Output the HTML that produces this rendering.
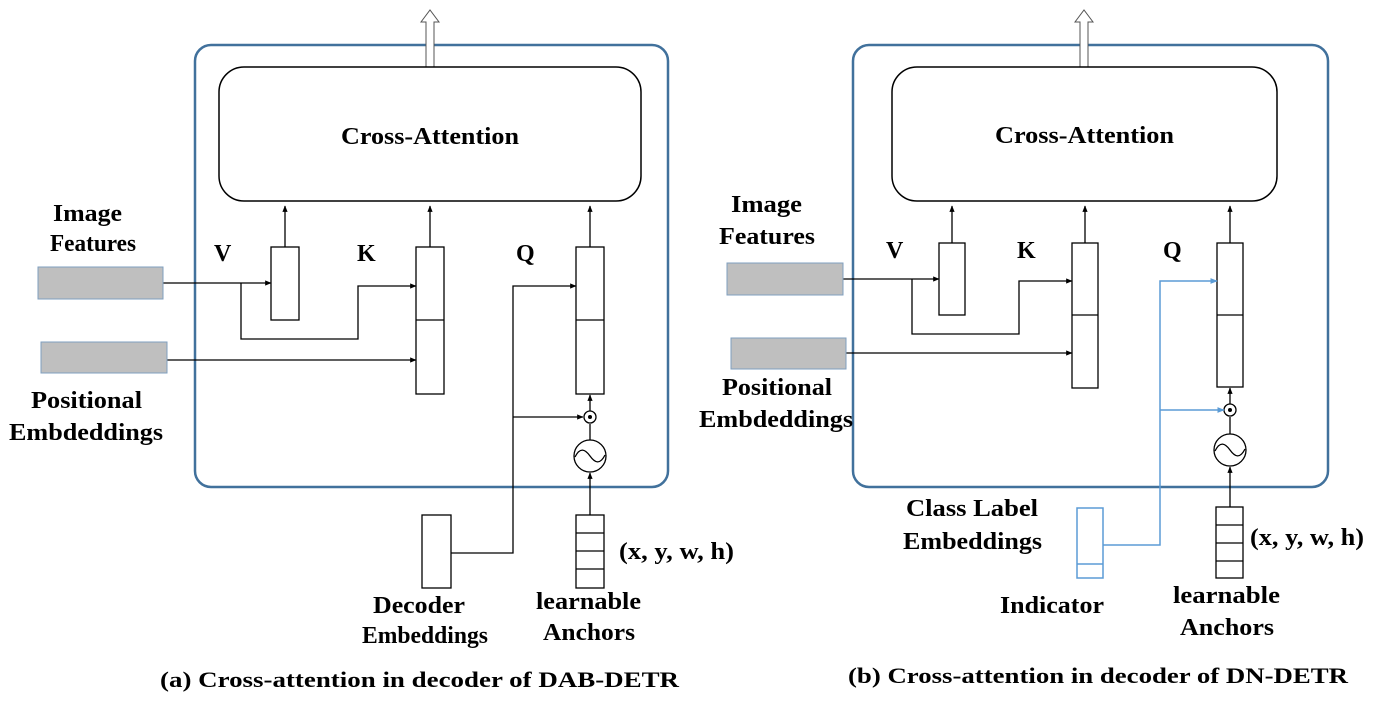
<!DOCTYPE html>
<html><head><meta charset="utf-8"><style>
html,body{margin:0;padding:0;background:#fff;}
svg{display:block;}
text{font-family:"Liberation Serif",serif;font-weight:bold;fill:#000;}
</style></head><body>
<svg width="1391" height="705" viewBox="0 0 1391 705" xmlns="http://www.w3.org/2000/svg">
<defs>
<marker id="a" viewBox="0 0 10 10" refX="9" refY="5" markerWidth="5" markerHeight="5" orient="auto"><path d="M0,1L10,5L0,9z" fill="#000"/></marker>
<marker id="b" viewBox="0 0 10 10" refX="9" refY="5" markerWidth="5" markerHeight="5" orient="auto"><path d="M0,1L10,5L0,9z" fill="#5b9bd5"/></marker>
</defs>
<!-- LEFT PANEL -->
<rect x="195" y="45" width="473" height="442" rx="16" fill="none" stroke="#41719c" stroke-width="2.5"/>
<path d="M426,67V22H421L430,10L439,22H434V67" fill="#fff" stroke="#555" stroke-width="1"/>
<rect x="219" y="67" width="422" height="134" rx="25" fill="#fff" stroke="#000" stroke-width="1.5"/>
<text x="341" y="144" font-size="24" textLength="178" lengthAdjust="spacingAndGlyphs">Cross-Attention</text>
<g stroke="#000" stroke-width="1.3" fill="none">
<rect x="271" y="247" width="28" height="73"/>
<rect x="416" y="247" width="28" height="147"/><line x1="416" y1="320" x2="444" y2="320"/>
<rect x="576" y="247" width="28" height="147"/><line x1="576" y1="320" x2="604" y2="320"/>
<line x1="285" y1="247" x2="285" y2="206" marker-end="url(#a)"/>
<line x1="430" y1="247" x2="430" y2="206" marker-end="url(#a)"/>
<line x1="590" y1="247" x2="590" y2="206" marker-end="url(#a)"/>
<line x1="163" y1="283" x2="271" y2="283" marker-end="url(#a)"/>
<polyline points="241,283 241,339 358,339 358,286 416,286" marker-end="url(#a)"/>
<line x1="167" y1="360" x2="416" y2="360" marker-end="url(#a)"/>
<rect x="422" y="515" width="29" height="73"/>
<polyline points="451,553 513,553 513,286 576,286" marker-end="url(#a)"/>
<line x1="513" y1="417" x2="583" y2="417" marker-end="url(#a)"/>
<circle cx="590" cy="417" r="6"/>
<line x1="590" y1="411" x2="590" y2="395" marker-end="url(#a)"/>
<circle cx="590" cy="456" r="16"/>
<path d="M575,457C580,447 585,449 590,456C595,463 600,465 605,455"/>
<line x1="590" y1="440" x2="590" y2="424" />
<rect x="576" y="515" width="28" height="73"/>
<line x1="576" y1="533" x2="604" y2="533"/><line x1="576" y1="551" x2="604" y2="551"/><line x1="576" y1="569" x2="604" y2="569"/>
<line x1="590" y1="515" x2="590" y2="473" marker-end="url(#a)"/>
</g>
<circle cx="590" cy="417" r="2" fill="#000"/>
<rect x="38" y="267" width="125" height="32" fill="#bfbfbf" stroke="#7f9fbf" stroke-width="1"/>
<rect x="41" y="342" width="126" height="31" fill="#bfbfbf" stroke="#7f9fbf" stroke-width="1"/>
<g font-size="24" lengthAdjust="spacingAndGlyphs">
<text x="53" y="221" textLength="69" lengthAdjust="spacingAndGlyphs">Image</text>
<text x="50" y="251" textLength="86" lengthAdjust="spacingAndGlyphs">Features</text>
<text x="214" y="261">V</text><text x="357" y="261">K</text><text x="516" y="261">Q</text>
<text x="31" y="408" textLength="111" lengthAdjust="spacingAndGlyphs">Positional</text>
<text x="9" y="440" textLength="154" lengthAdjust="spacingAndGlyphs">Embdeddings</text>
<text x="619" y="559" textLength="115" lengthAdjust="spacingAndGlyphs">(x, y, w, h)</text>
<text x="373" y="613" textLength="92" lengthAdjust="spacingAndGlyphs">Decoder</text>
<text x="362" y="643" textLength="126" lengthAdjust="spacingAndGlyphs">Embeddings</text>
<text x="536" y="609" textLength="105" lengthAdjust="spacingAndGlyphs">learnable</text>
<text x="543" y="640" textLength="92" lengthAdjust="spacingAndGlyphs">Anchors</text>
<text x="160" y="687" font-size="22" textLength="519" lengthAdjust="spacingAndGlyphs">(a) Cross-attention in decoder of  DAB-DETR</text>
</g>
<!-- RIGHT PANEL -->
<rect x="853" y="45" width="475" height="442" rx="16" fill="none" stroke="#41719c" stroke-width="2.5"/>
<path d="M1080,67V22H1075L1084,10L1093,22H1088V67" fill="#fff" stroke="#555" stroke-width="1"/>
<rect x="892" y="67" width="385" height="134" rx="25" fill="#fff" stroke="#000" stroke-width="1.5"/>
<text x="995" y="143" font-size="24" textLength="179" lengthAdjust="spacingAndGlyphs">Cross-Attention</text>
<g stroke="#000" stroke-width="1.3" fill="none">
<rect x="939" y="243" width="26" height="72"/>
<rect x="1072" y="243" width="26" height="145"/><line x1="1072" y1="315" x2="1098" y2="315"/>
<rect x="1217" y="243" width="26" height="144"/><line x1="1217" y1="315" x2="1243" y2="315"/>
<line x1="952" y1="243" x2="952" y2="206" marker-end="url(#a)"/>
<line x1="1085" y1="243" x2="1085" y2="206" marker-end="url(#a)"/>
<line x1="1230" y1="243" x2="1230" y2="206" marker-end="url(#a)"/>
<line x1="843" y1="279" x2="939" y2="279" marker-end="url(#a)"/>
<polyline points="912,279 912,334 1019,334 1019,281 1072,281" marker-end="url(#a)"/>
<line x1="846" y1="353" x2="1072" y2="353" marker-end="url(#a)"/>
<circle cx="1230" cy="410" r="6"/>
<line x1="1230" y1="404" x2="1230" y2="388" marker-end="url(#a)"/>
<circle cx="1230" cy="450" r="16"/>
<path d="M1215,451C1220,441 1225,443 1230,450C1235,457 1240,459 1245,449"/>
<line x1="1230" y1="434" x2="1230" y2="417"/>
<rect x="1216" y="507" width="27" height="71"/>
<line x1="1216" y1="525" x2="1243" y2="525"/><line x1="1216" y1="543" x2="1243" y2="543"/><line x1="1216" y1="561" x2="1243" y2="561"/>
<line x1="1230" y1="507" x2="1230" y2="467" marker-end="url(#a)"/>
</g>
<circle cx="1230" cy="410" r="2" fill="#000"/>
<g stroke="#5b9bd5" stroke-width="1.5" fill="none">
<rect x="1077" y="508" width="26" height="70"/><line x1="1077" y1="564" x2="1103" y2="564"/>
<polyline points="1103,545 1160,545 1160,281 1217,281" marker-end="url(#b)"/>
<line x1="1160" y1="410" x2="1224" y2="410" marker-end="url(#b)"/>
</g>
<rect x="727" y="263" width="116" height="32" fill="#bfbfbf" stroke="#7f9fbf" stroke-width="1"/>
<rect x="731" y="338" width="115" height="31" fill="#bfbfbf" stroke="#7f9fbf" stroke-width="1"/>
<g font-size="24">
<text x="731" y="212" textLength="71" lengthAdjust="spacingAndGlyphs">Image</text>
<text x="719" y="244" textLength="96" lengthAdjust="spacingAndGlyphs">Features</text>
<text x="886" y="258">V</text><text x="1017" y="258">K</text><text x="1163" y="258">Q</text>
<text x="722" y="395" textLength="110" lengthAdjust="spacingAndGlyphs">Positional</text>
<text x="699" y="427" textLength="154" lengthAdjust="spacingAndGlyphs">Embdeddings</text>
<text x="906" y="516" textLength="132" lengthAdjust="spacingAndGlyphs">Class Label</text>
<text x="903" y="549" textLength="139" lengthAdjust="spacingAndGlyphs">Embeddings</text>
<text x="1000" y="613" textLength="104" lengthAdjust="spacingAndGlyphs">Indicator</text>
<text x="1173" y="603" textLength="107" lengthAdjust="spacingAndGlyphs">learnable</text>
<text x="1180" y="635" textLength="94" lengthAdjust="spacingAndGlyphs">Anchors</text>
<text x="1250" y="545" textLength="114" lengthAdjust="spacingAndGlyphs">(x, y, w, h)</text>
<text x="848" y="683" font-size="22" textLength="500" lengthAdjust="spacingAndGlyphs">(b) Cross-attention in decoder of  DN-DETR</text>
</g>
</svg>
</body></html>
